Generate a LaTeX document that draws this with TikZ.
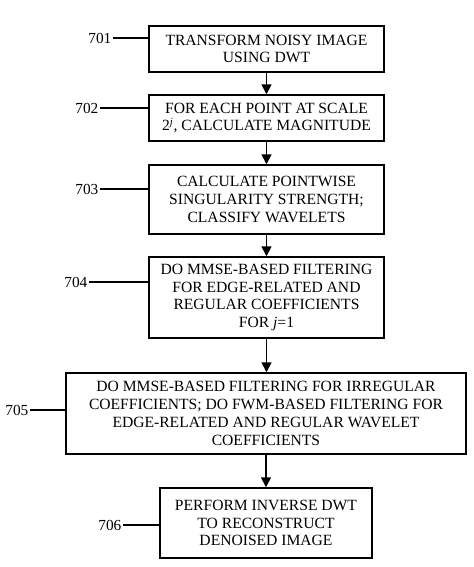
\documentclass[tikz,border=0pt]{standalone}
\usepackage{fontspec}
\setmainfont{Liberation Serif}
\usetikzlibrary{arrows.meta,positioning}
\tikzset{
  stepbox/.style = {rectangle, draw=black, line width=1.1pt, fill=white,
                    minimum width=235*0.75pt, inner sep=1pt,
                    font=\fontsize{11.7pt}{13.3pt}\selectfont, align=center},
  refno/.style   = {font=\fontsize{11.5pt}{13pt}\selectfont, inner sep=1pt, anchor=east},
  lead/.style    = {draw=black, line width=0.9pt},
  flow/.style    = {-{Triangle[length=7.5pt,width=7.5pt]}, draw=black, line width=1.2pt},
}
\begin{document}
\begin{tikzpicture}[x=0.75pt,y=-0.75pt]
  \useasboundingbox (0,0) rectangle (474,567);
  % process boxes
  \node[stepbox, minimum height=46*0.75pt] (b701) at (266.5,49)
    {TRANSFORM NOISY IMAGE\\USING DWT};
  \node[stepbox, minimum height=46*0.75pt] (b702) at (266.5,118)
    {FOR EACH POINT AT SCALE\\2\textsuperscript{\textit{j}}, CALCULATE MAGNITUDE};
  \node[stepbox, minimum height=69*0.75pt] (b703) at (266.5,199.5)
    {CALCULATE POINTWISE\\SINGULARITY STRENGTH;\\CLASSIFY WAVELETS};
  \node[stepbox, minimum height=81*0.75pt] (b704) at (266.5,297.5)
    {DO MMSE-BASED FILTERING\\FOR EDGE-RELATED AND\\REGULAR COEFFICIENTS\\FOR \textit{j}=1};
  \node[stepbox, minimum height=81*0.75pt, minimum width=400*0.75pt] (b705) at (266,413.5)
    {DO MMSE-BASED FILTERING FOR IRREGULAR\\COEFFICIENTS; DO FWM-BASED FILTERING FOR\\EDGE-RELATED AND REGULAR WAVELET\\COEFFICIENTS};
  \node[stepbox, minimum height=70*0.75pt, minimum width=212*0.75pt] (b706) at (266,523)
    {PERFORM INVERSE DWT\\TO RECONSTRUCT\\DENOISED IMAGE};
  % reference numerals
  \node[refno] (l701) at (113,38)  {701};
  \node[refno] (l702) at (100,108) {702};
  \node[refno] (l703) at (100,189) {703};
  \node[refno] (l704) at (89,282)  {704};
  \node[refno] (l705) at (30,410)  {705};
  \node[refno] (l706) at (123,525) {706};
  \foreach \n in {701,702,703,704,705,706}
    \draw[lead] (l\n.east) -- (l\n.east -| b\n.west);
  % flow arrows
  \draw[flow] (b701) -- (b702);
  \draw[flow] (b702) -- (b703);
  \draw[flow] (b703) -- (b704);
  \draw[flow] (b704.south) -- (b704.south |- b705.north);
  \draw[flow] (b705.south) -- (b705.south |- b706.north);
\end{tikzpicture}
\end{document}
